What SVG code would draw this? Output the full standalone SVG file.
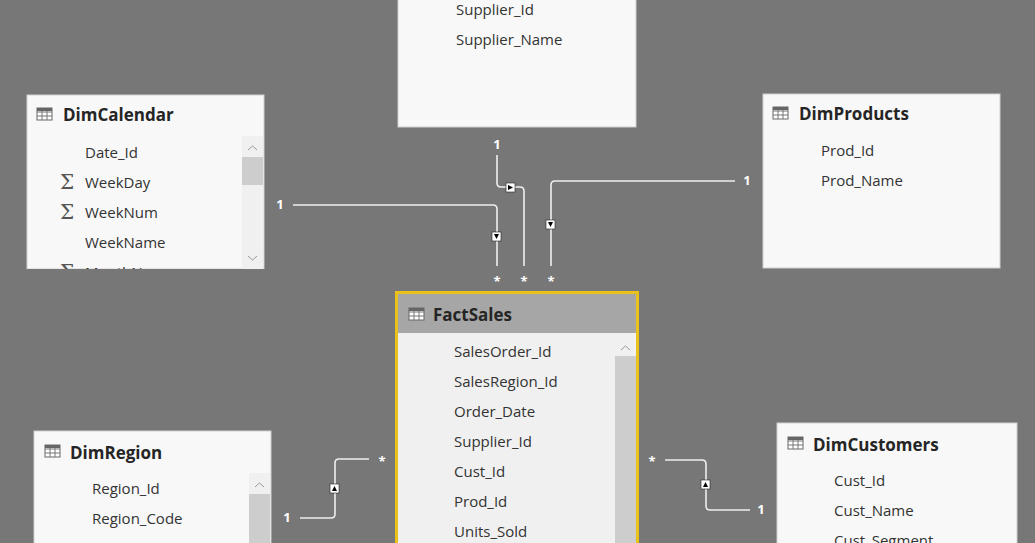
<svg xmlns="http://www.w3.org/2000/svg" width="1035" height="543" viewBox="0 0 1035 543">
<defs>
<style>
text{font-family:"Segoe UI","Open Sans","Liberation Sans",sans-serif}
.box{fill:#f8f8f8;stroke:#d0d0d0;stroke-width:1}
.t{font-size:17px;font-weight:bold;fill:#252525}
.f{font-size:15px;fill:#333}
.s{font-size:20px;fill:#555;font-family:"DejaVu Serif",serif}
.c{fill:none;stroke:#eeeeee;stroke-width:1.6}
.lbl{font-size:13px;font-weight:bold;fill:#fff}
.mk{fill:#fff;stroke:#222;stroke-width:0.6}
.sb{fill:#f0f0f0}
.th{fill:#cdcdcd}
</style>
<g id="tblicon"><rect x="0" y="0" width="15" height="12" fill="#fff" stroke="#666"/><path d="M0 4H15M0 8H15M5 0V12M10 0V12" stroke="#777" stroke-width="1"/><rect x="0" y="0" width="15" height="3" fill="#666"/></g>
</defs>
<rect width="1035" height="543" fill="#777777"/>
<g id="connectors">
<path class="c" d="M293 205H493Q497 205 497 209V266"/>
<path class="c" d="M497 155V183Q497 187 501 187H520Q524 187 524 191V266"/>
<path class="c" d="M735 181H555Q551 181 551 185V266"/>
<path class="c" d="M300 518H331Q335 518 335 514V463Q335 459 339 459H369"/>
<path class="c" d="M665 460H702Q706 460 706 464V506Q706 510 710 510H750"/>
<rect class="mk" x="492" y="232" width="9" height="9"/><path d="M494 234H499L496.5 239Z"/>
<rect class="mk" x="506" y="183" width="9" height="9"/><path d="M508 185V190L513 187.5Z"/>
<rect class="mk" x="546" y="220" width="9" height="9"/><path d="M548 222H553L550.5 227Z"/>
<rect class="mk" x="330" y="484" width="9" height="9"/><path d="M332 491H337L334.5 486Z"/>
<rect class="mk" x="701" y="480" width="9" height="9"/><path d="M703 487H708L705.5 482Z"/>
<text class="lbl" x="280" y="209" text-anchor="middle">1</text>
<text class="lbl" x="497" y="149" text-anchor="middle">1</text>
<text class="lbl" x="747" y="185" text-anchor="middle">1</text>
<text class="lbl" x="287" y="522" text-anchor="middle">1</text>
<text class="lbl" x="761" y="514" text-anchor="middle">1</text>
<text class="lbl" x="497" y="286" text-anchor="middle">*</text>
<text class="lbl" x="524" y="286" text-anchor="middle">*</text>
<text class="lbl" x="551" y="286" text-anchor="middle">*</text>
<text class="lbl" x="382" y="466" text-anchor="middle">*</text>
<text class="lbl" x="652" y="466" text-anchor="middle">*</text>
</g>
<g id="DimSupplier">
<rect class="box" x="398" y="-5" width="238" height="132"/>
<text class="f" x="456" y="15">Supplier_Id</text>
<text class="f" x="456" y="45">Supplier_Name</text>
</g>
<g id="DimCalendar">
<rect class="box" x="27" y="95" width="237" height="174"/>
<use href="#tblicon" x="37" y="108"/>
<text class="t" x="63" y="121">DimCalendar</text>
<rect class="sb" x="242" y="136" width="21" height="133"/>
<rect class="th" x="242" y="157" width="21" height="28"/>
<path d="M248 150L252.5 146L257 150M248 256L252.5 260L257 256" fill="none" stroke="#999"/>
<text class="f" x="85" y="158">Date_Id</text>
<text class="s" x="60" y="189">Σ</text><text class="f" x="85" y="188">WeekDay</text>
<text class="s" x="60" y="219">Σ</text><text class="f" x="85" y="218">WeekNum</text>
<text class="f" x="85" y="248">WeekName</text>
<text class="s" x="60" y="279">Σ</text><text class="f" x="85" y="278">MonthNum</text>
<rect x="27" y="269" width="240" height="12" fill="#777"/>
</g>
<g id="DimProducts">
<rect class="box" x="763" y="94" width="237" height="174"/>
<use href="#tblicon" x="773" y="107"/>
<text class="t" x="799" y="120">DimProducts</text>
<text class="f" x="821" y="156">Prod_Id</text>
<text class="f" x="821" y="186">Prod_Name</text>
</g>
<g id="FactSales">
<rect x="396.5" y="292.5" width="241" height="260" fill="#f0f0f0" stroke="#e8c21a" stroke-width="3"/>
<rect x="398" y="294" width="238" height="39" fill="#a6a6a6"/>
<use href="#tblicon" x="409" y="308"/>
<text class="t" x="433" y="321">FactSales</text>
<rect x="615" y="336" width="21" height="210" fill="#f0f0f0"/>
<rect class="th" x="615" y="356" width="21" height="190"/>
<path d="M621 350L625.5 346L630 350" fill="none" stroke="#999"/>
<text class="f" x="454" y="357">SalesOrder_Id</text>
<text class="f" x="454" y="387">SalesRegion_Id</text>
<text class="f" x="454" y="417">Order_Date</text>
<text class="f" x="454" y="447">Supplier_Id</text>
<text class="f" x="454" y="477">Cust_Id</text>
<text class="f" x="454" y="507">Prod_Id</text>
<text class="f" x="454" y="537">Units_Sold</text>
</g>
<g id="DimRegion">
<rect class="box" x="34" y="431" width="237" height="130"/>
<use href="#tblicon" x="45" y="445"/>
<text class="t" x="70" y="459">DimRegion</text>
<rect class="sb" x="249" y="473" width="21" height="80"/>
<rect class="th" x="249" y="494" width="21" height="60"/>
<path d="M255 487L259.5 483L264 487" fill="none" stroke="#999"/>
<text class="f" x="92" y="494">Region_Id</text>
<text class="f" x="92" y="524">Region_Code</text>
</g>
<g id="DimCustomers">
<rect class="box" x="777" y="423" width="240" height="130"/>
<use href="#tblicon" x="788" y="437"/>
<text class="t" x="813" y="451">DimCustomers</text>
<text class="f" x="834" y="486">Cust_Id</text>
<text class="f" x="834" y="516">Cust_Name</text>
<text class="f" x="834" y="546">Cust_Segment</text>
</g>
</svg>
